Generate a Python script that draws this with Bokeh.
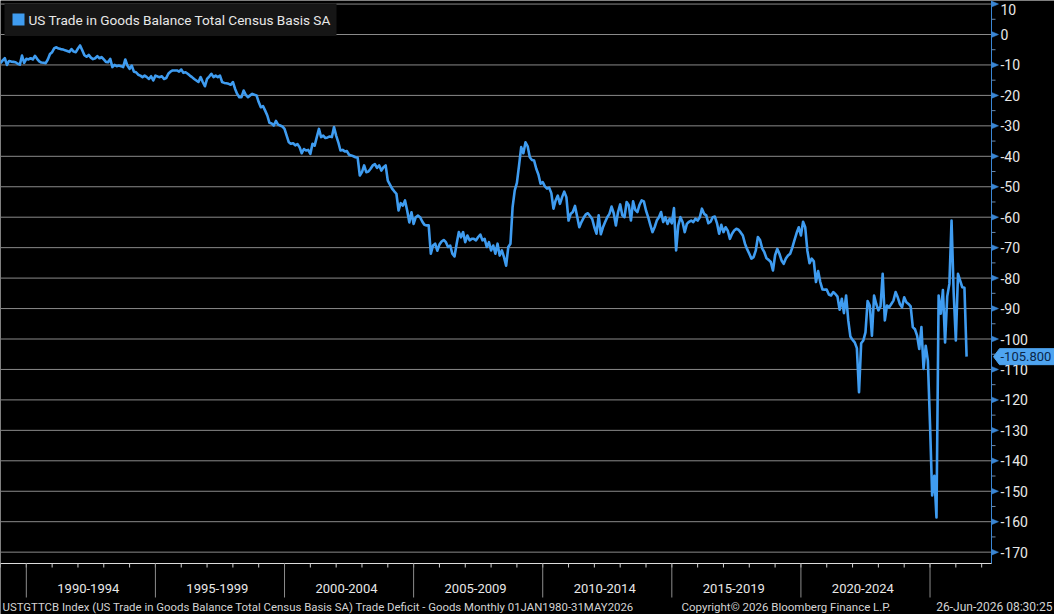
import pandas as pd
from bokeh.plotting import figure
from bokeh.models import ColumnDataSource, Range1d
from bokeh.core.properties import value
from bokeh.embed import file_html
from bokeh.resources import INLINE

# ---------------- data ----------------
SERIES_NAME = "US Trade in Goods Balance Total Census Basis SA"
FIRST_MONTH = "1988-12"
balance = [
    -9.4,
    -8.5, -7.8, -10.0, -8.7, -8.9, -9.0, -9.1, -9.6, -9.9, -6.9, -9.3, -8.0,
    -8.2, -7.8, -8.2, -7.0, -8.0, -8.8, -9.2, -9.3, -9.4, -8.2, -6.4, -5.8,
    -4.5, -4.2, -4.6, -4.8, -4.9, -5.2, -5.4, -5.7, -4.8, -5.6, -5.8, -4.6,
    -3.6, -5.2, -6.8, -7.3, -6.7, -7.6, -8.1, -7.8, -7.1, -7.8, -7.4, -8.2,
    -9.0, -9.1, -8.0, -10.7, -10.0, -10.4, -10.2, -10.4, -10.7, -8.2, -10.2, -11.3,
    -10.2, -12.2, -12.4, -13.2, -13.5, -14.0, -13.5, -14.0, -14.6, -13.7, -15.1, -13.5,
    -13.8, -14.0, -13.7, -14.6, -14.3, -12.9, -12.2, -11.8, -11.8, -11.8, -12.2, -11.5,
    -12.6, -12.4, -12.9, -13.5, -14.0, -14.6, -15.1, -15.6, -14.0, -15.6, -17.0, -14.6,
    -13.8, -12.9, -14.0, -13.5, -14.0, -13.5, -15.6, -15.9, -16.0, -16.2, -16.5, -15.6,
    -17.8, -19.5, -20.6, -20.6, -18.4, -19.8, -20.6, -20.0, -19.5, -19.8, -20.0, -22.2,
    -23.9, -23.5, -25.0, -26.6, -29.0, -29.2, -29.9, -28.4, -29.6, -29.9, -30.2, -31.0,
    -33.2, -35.4, -35.9, -35.7, -36.4, -36.0, -37.0, -39.0, -37.6, -38.1, -37.9, -39.2,
    -35.9, -36.5, -33.7, -31.0, -33.7, -33.2, -34.0, -33.8, -33.5, -33.7, -30.4, -33.2,
    -35.4, -38.1, -37.9, -38.4, -38.3, -39.5, -39.7, -40.0, -40.3, -40.5, -46.3, -45.2,
    -43.0, -45.2, -45.0, -44.1, -43.0, -42.6, -43.8, -43.0, -44.7, -43.6, -43.0, -48.0,
    -49.3, -50.6, -51.5, -52.3, -57.8, -55.4, -56.2, -54.5, -57.8, -61.7, -58.4, -62.2,
    -60.0, -59.5, -60.0, -61.4, -62.5, -62.7, -62.7, -72.0, -69.3, -68.7, -71.0, -69.0,
    -68.0, -67.5, -68.2, -69.8, -69.3, -72.0, -72.9, -68.7, -64.9, -66.6, -64.9, -68.2,
    -66.0, -67.6, -67.1, -67.1, -67.6, -66.5, -65.7, -67.6, -67.1, -69.8, -68.2, -70.9,
    -69.3, -72.0, -68.7, -72.6, -70.9, -73.1, -75.9, -69.8, -68.7, -56.7, -51.2, -48.7,
    -43.0, -37.0, -39.0, -35.4, -36.7, -40.3, -41.2, -41.4, -44.1, -46.0, -49.0, -48.5,
    -49.9, -50.6, -50.3, -52.1, -57.2, -54.5, -52.9, -55.6, -53.4, -51.6, -53.4, -61.1,
    -58.9, -58.3, -56.3, -59.8, -63.3, -61.6, -60.2, -59.1, -58.7, -59.6, -60.6, -63.3,
    -65.4, -59.4, -65.6, -63.3, -61.6, -60.0, -58.9, -56.5, -58.7, -62.7, -58.3, -55.8,
    -59.4, -60.0, -55.0, -56.1, -61.1, -54.8, -57.6, -58.3, -55.9, -54.5, -54.8, -57.8,
    -60.0, -62.5, -64.9, -63.3, -61.1, -60.0, -58.3, -61.6, -60.0, -62.2, -60.5, -62.0,
    -57.0, -70.9, -62.7, -60.0, -61.6, -64.9, -62.2, -61.5, -61.1, -61.6, -60.5, -61.1,
    -60.0, -57.2, -58.9, -59.4, -62.0, -61.5, -60.0, -59.8, -62.0, -65.4, -62.5, -64.9,
    -63.3, -64.4, -67.1, -65.4, -64.4, -63.8, -64.1, -65.0, -66.0, -68.7, -70.5, -72.0,
    -73.6, -73.1, -71.0, -66.5, -67.5, -70.2, -71.5, -73.5, -74.0, -74.7, -77.5, -72.5,
    -70.4, -72.0, -74.2, -75.3, -73.6, -72.6, -72.0, -70.0, -67.5, -65.2, -63.3, -66.0,
    -61.5, -63.3, -71.0, -75.1, -73.6, -74.5, -81.3, -77.7, -81.3, -83.7, -83.8, -83.8,
    -85.4, -85.7, -84.6, -85.2, -86.1, -90.4, -86.8, -91.5, -85.7, -93.9, -99.2, -100.3,
    -101.1, -103.0, -117.5, -101.4, -100.5, -97.8, -87.5, -89.0, -98.9, -85.7, -88.5, -90.6,
    -89.3, -78.6, -93.9, -89.0, -89.6, -88.5, -87.4, -84.6, -86.3, -88.5, -89.6, -86.3,
    -87.9, -88.5, -89.3, -96.1, -96.8, -98.9, -103.3, -96.1, -109.8, -102.2, -107.1, -128.0,
    -151.4, -144.9, -158.6, -85.7, -91.7, -83.9, -101.1, -86.0, -81.9, -61.1, -85.0, -100.5,
    -78.6, -80.8, -83.0, -83.2, -105.8,
]
y_ticks = list(range(-170, 11, 10))
y_minor_ticks = list(range(-165, 10, 10))
band_starts = [1990, 1995, 2000, 2005, 2010, 2015, 2020, 2025]
band_labels = ["1990-1994", "1995-1999", "2000-2004", "2005-2009",
               "2010-2014", "2015-2019", "2020-2024"]
year_ticks = list(range(1989, 2028))
footer_left = ("USTGTTCB Index (US Trade in Goods Balance Total Census Basis SA) "
               "Trade Deficit - Goods Monthly 01JAN1980-31MAY2026")
footer_mid = "Copyright\u00a9 2026 Bloomberg Finance L.P."
footer_right = "26-Jun-2026 08:30:25"

months = pd.period_range(FIRST_MONTH, periods=len(balance), freq="M")
t_end = (months.year + months.month / 12.0).to_numpy(dtype=float)
src = ColumnDataSource(dict(t=t_end, v=balance))

# ---------------- geometry / style ----------------
W, H = 1054, 614
AX_PX = 991          # right value-axis position (px from left)
BASE_PX = 563        # time-axis position (px from top)
PX_PER_YEAR = 25.82
PX_PER_UNIT = 3.045
ZERO_PX = 34.0
X0 = 1989.0          # year at the left edge
YT = ZERO_PX / PX_PER_UNIT


def dx(px):
    return X0 + px / PX_PER_YEAR


def dy(py):
    return YT - py / PX_PER_UNIT


FONT = value("Roboto")
LINE_BLUE = "#3f9cf0"
AXIS_BLUE = "#3a86d4"
GRID = "#8a8a8a"
TEXT = "#e8e8e8"

X_AX = dx(AX_PX)
Y_BASE = dy(BASE_PX)

p = figure(width=W, height=H, x_range=Range1d(dx(0), dx(W)),
           y_range=Range1d(dy(H), dy(0)), x_axis_location=None,
           y_axis_location=None, toolbar_location=None, output_backend="svg",
           title=None, min_border=0, background_fill_color="black",
           border_fill_color="black", outline_line_color=None)
p.grid.visible = False

# horizontal grid at the value ticks
p.segment(x0=[dx(0)] * len(y_ticks), x1=[X_AX] * len(y_ticks), y0=y_ticks,
          y1=y_ticks, line_color=GRID, line_width=1)

# the series
p.line(x="t", y="v", source=src, line_color=LINE_BLUE, line_width=2.6,
       line_join="round")

# legend box (swatch + series name), drawn over the grid
p.quad(left=[dx(4)], right=[dx(336)], top=[dy(3)], bottom=[dy(35.5)],
       fill_color="#161616", line_color=None)
p.quad(left=[dx(12)], right=[dx(24)], top=[dy(13)], bottom=[dy(25)],
       fill_color=LINE_BLUE, line_color=None)
p.text(x=[dx(28)], y=[dy(19.5)], text=[SERIES_NAME], text_align="left",
       text_baseline="middle", text_color=TEXT, text_font=FONT,
       text_font_size="13.6px")

# right value axis: line, minor ticks, triangular major ticks, labels
p.segment(x0=[X_AX], x1=[X_AX], y0=[dy(0)], y1=[Y_BASE], line_color=AXIS_BLUE,
          line_width=1)
p.segment(x0=[X_AX] * len(y_minor_ticks), x1=[dx(AX_PX + 4)] * len(y_minor_ticks),
          y0=y_minor_ticks, y1=y_minor_ticks, line_color="#6a88aa", line_width=1)
d = 3 / PX_PER_UNIT
p.patches(xs=[[X_AX, dx(AX_PX + 7), X_AX] for _ in y_ticks],
          ys=[[v + d, v, v - d] for v in y_ticks],
          fill_color=AXIS_BLUE, line_color=AXIS_BLUE, line_width=0.5)
label_nudge = [5.5 if v == max(y_ticks) else 0 for v in y_ticks]
p.text(x=[dx(AX_PX + 9)] * len(y_ticks), y=y_ticks, y_offset=label_nudge,
       text=[str(v) for v in y_ticks], text_align="left", text_baseline="middle",
       text_color=TEXT, text_font=FONT, text_font_size="14px")

# last value tag
last = balance[-1]
h = 8 / PX_PER_UNIT
p.patch(x=[dx(AX_PX + 2), dx(AX_PX + 8), dx(W), dx(W), dx(AX_PX + 8)],
        y=[last, last + h, last + h, last - h, last - h],
        fill_color="#4ea4f0", line_color="#4ea4f0")
p.text(x=[dx(AX_PX + 9)], y=[last], text=[f"{last:.3f}"], text_align="left",
       text_baseline="middle", text_color="#0b2748", text_font=FONT,
       text_font_size="13px")

# bottom time axis: base line, yearly ticks, 5-year separators, band labels
p.segment(x0=[dx(0)], x1=[X_AX], y0=[Y_BASE], y1=[Y_BASE],
          line_color="#dcdcdc", line_width=1)
p.segment(x0=year_ticks, x1=year_ticks, y0=[Y_BASE] * len(year_ticks),
          y1=[dy(BASE_PX + 4)] * len(year_ticks), line_color="#cfcfcf", line_width=1)
p.segment(x0=band_starts, x1=band_starts, y0=[Y_BASE] * len(band_starts),
          y1=[dy(BASE_PX + 34)] * len(band_starts), line_color="#8c8c8c",
          line_width=1)
p.text(x=[s + 2.4 for s in band_starts[:len(band_labels)]],
       y=[dy(588)] * len(band_labels), text=band_labels, text_align="center",
       text_baseline="middle", text_color=TEXT, text_font=FONT,
       text_font_size="13px")

# footer
p.text(x=[dx(2)], y=[dy(606)], text=[footer_left], text_align="left",
       text_baseline="middle", text_color="#d4d4d4", text_font=FONT,
       text_font_size="11.4px")
p.text(x=[dx(681)], y=[dy(606)], text=[footer_mid], text_align="left",
       text_baseline="middle", text_color="#d4d4d4", text_font=FONT,
       text_font_size="11.5px")
p.text(x=[dx(1052)], y=[dy(606)], text=[footer_right], text_align="right",
       text_baseline="middle", text_color="#d4d4d4", text_font=FONT,
       text_font_size="12px")

open("out.html", "w").write(file_html(p, INLINE))
